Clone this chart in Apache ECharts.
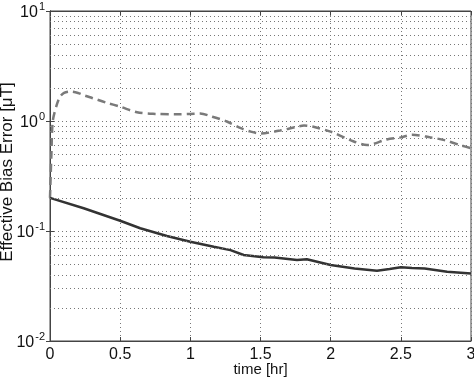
<!DOCTYPE html>
<html>
<head>
<meta charset="utf-8">
<script src="https://cdn.jsdelivr.net/npm/echarts@6/dist/echarts.min.js"></script>
<style>
  html, body { margin: 0; padding: 0; background: #fff; }
  #chart { width: 474px; height: 377px; }
</style>
</head>
<body>
<div id="chart"></div>
<script>
// time [hr] and effective bias error [uT]
const dashedTime = [0, 0.01, 0.02, 0.048, 0.071, 0.1, 0.143, 0.2, 0.238, 0.3, 0.4, 0.5, 0.62, 0.75, 0.9, 1.0, 1.07, 1.15, 1.26, 1.36, 1.43, 1.5, 1.64, 1.75, 1.81, 1.87, 2.0, 2.14, 2.26, 2.4, 2.5, 2.58, 2.71, 2.81, 2.93, 3.0];
const dashedValue = [0.2, 0.5, 1.0, 1.4, 1.66, 1.8, 1.85, 1.8, 1.72, 1.62, 1.47, 1.35, 1.2, 1.16, 1.15, 1.16, 1.17, 1.1, 0.99, 0.86, 0.8, 0.77, 0.82, 0.88, 0.91, 0.89, 0.8, 0.67, 0.605, 0.68, 0.71, 0.75, 0.71, 0.67, 0.6, 0.565];

const solidTime = [0, 0.012, 0.24, 0.5, 0.643, 0.833, 1.0, 1.167, 1.286, 1.38, 1.52, 1.6, 1.76, 1.83, 2.0, 2.17, 2.33, 2.42, 2.5, 2.58, 2.67, 2.83, 3.0];
const solidValue = [0.2, 0.198, 0.161, 0.124, 0.106, 0.09, 0.08, 0.072, 0.067, 0.0605, 0.0577, 0.0575, 0.0545, 0.0553, 0.049, 0.0457, 0.0436, 0.0452, 0.0468, 0.0462, 0.0457, 0.0426, 0.041];

const minorGrid = [0.02, 0.03, 0.04, 0.05, 0.06, 0.07, 0.08, 0.09,
  0.2, 0.3, 0.4, 0.5, 0.6, 0.7, 0.8, 0.9,
  2, 3, 4, 5, 6, 7, 8, 9];

const font = 'Liberation Sans, Arial, sans-serif';
const chart = echarts.init(document.getElementById('chart'));

const zip = (xs, ys) => xs.map((x, i) => [x, ys[i]]);

const dotted = { color: '#777', width: 1, type: [1, 3] };

chart.setOption({
  animation: false,
  backgroundColor: '#fff',
  grid: {
    left: 50, right: 3, top: 11, bottom: 36,
    containLabel: false, outerBoundsMode: 'none',
    show: true, borderColor: '#444', borderWidth: 1
  },
  xAxis: [{
    type: 'value', min: 0, max: 3, interval: 0.5,
    name: 'time [hr]', nameLocation: 'middle', nameGap: 21, nameMoveOverlap: false,
    nameTextStyle: { fontFamily: font, fontSize: 15, color: '#111' },
    axisLine: { lineStyle: { color: '#444' } },
    axisTick: { inside: true, length: 4, lineStyle: { color: '#444' } },
    axisLabel: { fontFamily: font, fontSize: 16, color: '#111', margin: 6 },
    splitLine: { show: true, lineStyle: dotted }
  }, {
    type: 'value', min: 0, max: 3, interval: 0.5, position: 'top',
    axisLine: { show: true, lineStyle: { color: '#444' } },
    axisTick: { inside: true, length: 4, lineStyle: { color: '#444' } },
    axisLabel: { show: false }, splitLine: { show: false }
  }],
  yAxis: [{
    type: 'log', logBase: 10, min: 0.01, max: 10,
    name: 'Effective Bias Error [\u03bcT]', nameLocation: 'middle', nameGap: 34, nameMoveOverlap: false,
    nameTextStyle: { fontFamily: font, fontSize: 17, color: '#111', padding: [0, 0, 0, 8] },
    axisLine: { show: true, lineStyle: { color: '#444' } },
    axisTick: { show: true, inside: true, length: 4, lineStyle: { color: '#444' } },
    axisLabel: {
      margin: 5,
      formatter: v => '{b|10}{s|' + Math.round(Math.log10(v)) + '}',
      rich: {
        b: { fontFamily: font, fontSize: 16, color: '#111', verticalAlign: 'bottom' },
        s: { fontFamily: font, fontSize: 11, color: '#111', verticalAlign: 'top', padding: [0, 0, 9, 1] }
      }
    },
    splitLine: { show: true, lineStyle: dotted }
  }, {
    type: 'log', logBase: 10, min: 0.01, max: 10, position: 'right',
    axisLine: { show: true, lineStyle: { color: '#444' } },
    axisTick: { show: true, inside: true, length: 4, lineStyle: { color: '#444' } },
    axisLabel: { show: false }, splitLine: { show: false }
  }],
  series: [{
    type: 'line', silent: true, showSymbol: false, data: [],
    markLine: {
      silent: true, symbol: 'none', label: { show: false },
      lineStyle: dotted,
      data: minorGrid.map(v => ({ yAxis: v }))
    }
  }, {
    name: 'dashed', type: 'line', showSymbol: false, smooth: 0.3,
    data: zip(dashedTime, dashedValue),
    lineStyle: { color: '#7a7a7a', width: 2.5, type: [8, 5] }
  }, {
    name: 'solid', type: 'line', showSymbol: false,
    data: zip(solidTime, solidValue),
    lineStyle: { color: '#333', width: 2.5 }
  }]
});
</script>
</body>
</html>
